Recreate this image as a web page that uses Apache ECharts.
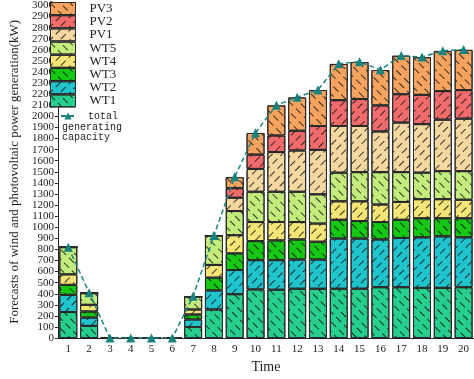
<!DOCTYPE html>
<html><head><meta charset="utf-8">
<script src="https://cdn.jsdelivr.net/npm/echarts@6/dist/echarts.min.js"></script>
<style>html,body{margin:0;padding:0;background:#fff}#c{width:474px;height:379px}</style>
</head><body><div id="c"></div>
<script>
const categories = ['1','2','3','4','5','6','7','8','9','10','11','12','13','14','15','16','17','18','19','20'];
const WT1 = [235,110,0,0,0,0,100,258,396,439,436,445,445,445,445,459,459,453,453,459];
const WT2 = [155,75,0,0,0,0,68,172,218,264,267,264,264,453,453,431,444,456,465,450];
const WT3 = [90,55,0,0,0,0,45,115,150,172,178,181,160,169,158,157,164,172,163,172];
const WT4 = [95,60,0,0,0,0,45,115,164,172,166,157,164,167,178,158,161,172,172,167];
const WT5 = [245,105,0,0,0,0,115,265,218,273,273,273,264,258,263,292,269,239,253,258];
const PV1 = [0,0,0,0,0,0,0,0,120,206,358,372,401,421,416,367,447,438,464,473];
const PV2 = [0,0,0,0,0,0,0,0,86,129,149,178,215,233,244,235,256,264,258,258];
const PV3 = [0,0,0,0,0,0,0,0,100,195,272,301,324,327,333,319,347,339,362,363];
const total = [820,410,0,0,0,0,378,925,1455,1852,2100,2173,2238,2474,2492,2420,2548,2535,2592,2603];
const yTicks = {min:0, max:3000, interval:100};

const serif = 'Liberation Serif';
function hatch(dir){
  return {symbol:'rect', symbolSize:1, dashArrayX:[[7,4]], dashArrayY:[1,6],
    rotation: dir*Math.PI/4, color:'rgba(20,20,20,0.85)'};
}
const specs = [
  ['WT1', WT1, '#26d08c', 1],
  ['WT2', WT2, '#1fc4cc', -1],
  ['WT3', WT3, '#14c814', 1],
  ['WT4', WT4, '#f4e576', -1],
  ['WT5', WT5, '#c3ec7c', 1],
  ['PV1', PV1, '#f5d7a0', -1],
  ['PV2', PV2, '#f26b6b', -1],
  ['PV3', PV3, '#f5a35e', 1]
];
const series = specs.map(s => ({
  name: s[0], type:'bar', stack:'all', data: s[1], barWidth: 18,
  itemStyle:{color:s[2], borderColor:'#2a2a2a', borderWidth:1, decal: hatch(s[3])},
  emphasis:{disabled:true}
}));
series.push({
  name:'total generating capacity', type:'line', data: total, z:10,
  symbol:'triangle', symbolSize:9,
  lineStyle:{color:'#17827f', width:1.5, type:[5,3]},
  itemStyle:{color:'#17827f'}
});

const chart = echarts.init(document.getElementById('c'), null, {renderer:'canvas'});
chart.setOption({
  animation:false,
  aria:{enabled:false},
  grid:{left:39, right:0, top:3, bottom:27, containLabel:false},
  legend:[{
    orient:'vertical', left:50, top:2, padding:0, itemWidth:25, itemHeight:12, itemGap:0.2,
    icon:'rect',
    data:['PV3','PV2','PV1','WT5','WT4','WT3','WT2','WT1'],
    textStyle:{fontFamily:serif, fontSize:13, lineHeight:12, color:'#222', padding:[0,0,0,9]},
    itemStyle:{borderColor:'#2a2a2a', borderWidth:1}
  },{
    orient:'vertical', left:60, top:111, padding:0, itemWidth:14, itemHeight:9,
    data:['total generating capacity'],
    formatter: () => 'total',
    textStyle:{fontFamily:'Liberation Mono', fontSize:10, lineHeight:10, color:'#222', padding:[0,0,0,8]}
  }],
  graphic:[
    {type:'text', left:62, top:122, style:{text:'generating', font:'10px "Liberation Mono"', fill:'#222'}},
    {type:'text', left:62, top:132, style:{text:'capacity', font:'10px "Liberation Mono"', fill:'#222'}}
  ],
  xAxis:{
    type:'category', data:categories, boundaryGap:true,
    name:'Time', nameLocation:'middle', nameGap:17,
    nameTextStyle:{fontFamily:serif, fontSize:14, color:'#222'},
    axisLine:{lineStyle:{color:'#222', width:1}},
    axisTick:{show:false},
    axisLabel:{fontFamily:serif, fontSize:11, color:'#222', margin:6, interval:0}
  },
  yAxis:{
    type:'value', min:yTicks.min, max:yTicks.max, interval:yTicks.interval,
    name:'Forecasts of wind and photovoltaic power generation(kW)',
    nameLocation:'middle', nameGap:28, nameRotate:90,
    nameTextStyle:{fontFamily:serif, fontSize:13, color:'#222'},
    axisLine:{show:true, lineStyle:{color:'#222', width:1}},
    axisTick:{show:true, length:3, lineStyle:{color:'#222'}},
    splitLine:{show:false},
    axisLabel:{fontFamily:serif, fontSize:11, color:'#222', margin:4, formatter: v => String(v)}
  },
  series: series
});
</script></body></html>
